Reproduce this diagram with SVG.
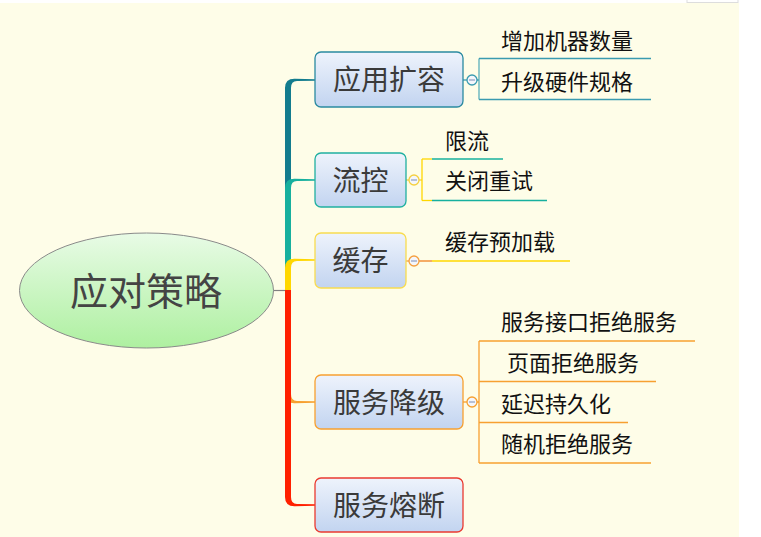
<svg xmlns="http://www.w3.org/2000/svg" width="761" height="537" viewBox="0 0 761 537">
<defs>
<linearGradient id="boxg" x1="0" y1="0" x2="0" y2="1"><stop offset="0" stop-color="#eef3fc"/><stop offset="1" stop-color="#c2d4f0"/></linearGradient>
<linearGradient id="rootg" x1="0" y1="0" x2="0" y2="1"><stop offset="0" stop-color="#e8fbe6"/><stop offset="1" stop-color="#aef0a0"/></linearGradient>
<style>
.box{fill:url(#boxg);stroke-width:1.3}
.bt{font-family:"Noto Sans CJK SC","Noto Sans",sans-serif;font-size:28px;fill:#3a3a3a;text-anchor:middle}
.ct{font-family:"Noto Sans CJK SC","Noto Sans",sans-serif;font-size:22px;fill:#111}
.ic{fill:#f4f6fb;stroke-width:1.3}
.mn{stroke:#a8b4d0;stroke-width:1.6}
.ln{fill:none;stroke-width:1.3}
</style>
</defs>
<rect x="0" y="0" width="761" height="537" fill="#ffffff"/>
<rect x="0" y="3" width="739" height="534" fill="#fefde8"/>
<rect x="687" y="-5" width="51" height="7.5" fill="#ffffff" stroke="#dddddd"/>

<g id="connectors">
<line x1="273" y1="290.5" x2="287" y2="290.5" stroke="#808080" stroke-width="1.2"/>
<path d="M285,291 L285,88 Q285,78.5 295,78.8 L315,79.3 L315,80.7 L297,81 Q291,81 291,88 L291,291 Z" fill="#137c8e"/>
<path d="M285,291 L285,188 Q285,178.5 295,178.8 L315,179.3 L315,180.7 L297,181 Q291,181 291,188 L291,291 Z" fill="#17b09e"/>
<path d="M285,291 L285,268 Q285,258.5 295,258.8 L315,259.3 L315,260.7 L297,261 Q291,261 291,268 L291,291 Z" fill="#ffd700"/>
<path d="M285,290 L285,394 Q285,403.5 295,403.2 L315,402.7 L315,401.3 L297,401 Q291,401 291,394 L291,290 Z" fill="#f7a030"/>
<path d="M285,290 L285,497 Q285,506.5 295,506.2 L315,505.7 L315,504.3 L297,504 Q291,504 291,497 L291,290 Z" fill="#ff2000"/>

<!-- 应用扩容 sub -->
<line class="ln" x1="463" y1="80" x2="467" y2="80" stroke="#3a9bb0"/>
<line class="ln" x1="477" y1="80" x2="479" y2="80" stroke="#3a9bb0"/>
<line class="ln" x1="479" y1="58.5" x2="479" y2="99.5" stroke="#5ab0bb" stroke-width="1.6"/>
<line class="ln" x1="479" y1="58.5" x2="651" y2="58.5" stroke="#3a9bb0"/>
<line class="ln" x1="479" y1="99.5" x2="651" y2="99.5" stroke="#3a9bb0"/>

<!-- 流控 sub -->
<line class="ln" x1="406" y1="180" x2="409" y2="180" stroke="#f5d040"/>
<line class="ln" x1="419" y1="180" x2="422" y2="180" stroke="#f5d040"/>
<line class="ln" x1="422" y1="159" x2="422" y2="200.5" stroke="#ffd700" stroke-width="1.6"/>
<line class="ln" x1="422" y1="159" x2="432" y2="159" stroke="#ffd700"/>
<line class="ln" x1="432" y1="159" x2="503" y2="159" stroke="#17b09e"/>
<line class="ln" x1="422" y1="200.5" x2="432" y2="200.5" stroke="#ffd700"/>
<line class="ln" x1="432" y1="200.5" x2="547" y2="200.5" stroke="#17b09e"/>

<!-- 缓存 sub -->
<line class="ln" x1="406" y1="261" x2="409" y2="261" stroke="#f5a040"/>
<line class="ln" x1="419" y1="261" x2="432" y2="261" stroke="#f08020"/>
<line class="ln" x1="432" y1="261" x2="570" y2="261" stroke="#ffd700"/>

<!-- 服务降级 sub -->
<line class="ln" x1="463" y1="402" x2="467" y2="402" stroke="#f7a030"/>
<line class="ln" x1="477" y1="402" x2="479" y2="402" stroke="#f7a030"/>
<line class="ln" x1="479" y1="341" x2="479" y2="463" stroke="#f7a030" stroke-width="1.6"/>
<line class="ln" x1="479" y1="341" x2="695" y2="341" stroke="#f7a030"/>
<line class="ln" x1="479" y1="381.5" x2="656" y2="381.5" stroke="#f7a030"/>
<line class="ln" x1="479" y1="422.5" x2="628" y2="422.5" stroke="#f7a030"/>
<line class="ln" x1="479" y1="463" x2="651" y2="463" stroke="#f7a030"/>

<!-- collapse icons -->
<circle class="ic" cx="472" cy="80" r="5" stroke="#3a9bb0"/><line class="mn" x1="469" y1="80" x2="475" y2="80"/>
<circle class="ic" cx="414" cy="180" r="5" stroke="#f5d040"/><line class="mn" x1="411" y1="180" x2="417" y2="180"/>
<circle class="ic" cx="414" cy="261" r="5" stroke="#f5a040"/><line class="mn" x1="411" y1="261" x2="417" y2="261"/>
<circle class="ic" cx="472" cy="402" r="5" stroke="#f7a030"/><line class="mn" x1="469" y1="402" x2="475" y2="402"/>
</g>

<g id="root">
<ellipse cx="146.5" cy="290.5" rx="127" ry="57.5" fill="url(#rootg)" stroke="#8a8a8a" stroke-width="1"/>
<text x="146" y="304.5" class="bt" style="font-size:38px;fill:#444">应对策略</text>
</g>

<g id="n-scale">
<rect class="box" x="315" y="52" width="148" height="55" rx="6" stroke="#2a8aa0"/>
<text class="bt" x="389" y="90">应用扩容</text>
</g>
<g id="n-flow">
<rect class="box" x="315" y="153" width="91" height="54" rx="6" stroke="#20b0a0"/>
<text class="bt" x="360.5" y="190.5">流控</text>
</g>
<g id="n-cache">
<rect class="box" x="315" y="233" width="91" height="55" rx="6" stroke="#f8dc50"/>
<text class="bt" x="360.5" y="271">缓存</text>
</g>
<g id="n-degrade">
<rect class="box" x="315" y="375" width="148" height="54" rx="6" stroke="#f7a030"/>
<text class="bt" x="389" y="412.5">服务降级</text>
</g>
<g id="n-break">
<rect class="box" x="315" y="478" width="148" height="54" rx="6" stroke="#ea3a30"/>
<text class="bt" x="389" y="515.5">服务熔断</text>
</g>

<g id="c-add"><text class="ct" x="501" y="48.5">增加机器数量</text></g>
<g id="c-upgrade"><text class="ct" x="501" y="89.5">升级硬件规格</text></g>
<g id="c-limit"><text class="ct" x="445" y="149">限流</text></g>
<g id="c-retry"><text class="ct" x="445" y="188.5">关闭重试</text></g>
<g id="c-preload"><text class="ct" x="445" y="249.5">缓存预加载</text></g>
<g id="c-api"><text class="ct" x="501" y="330">服务接口拒绝服务</text></g>
<g id="c-page"><text class="ct" x="507" y="371">页面拒绝服务</text></g>
<g id="c-delay"><text class="ct" x="501" y="411.5">延迟持久化</text></g>
<g id="c-random"><text class="ct" x="501" y="451.5">随机拒绝服务</text></g>
</svg>
